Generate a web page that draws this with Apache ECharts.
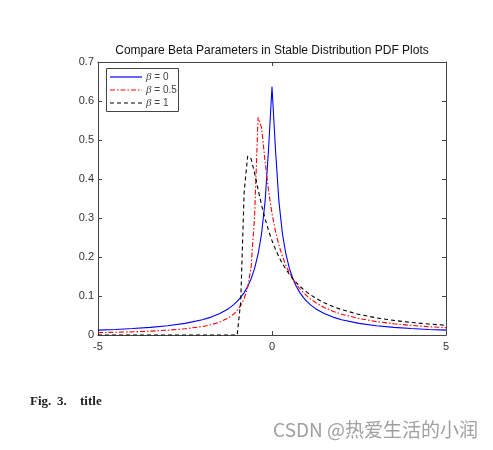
<!DOCTYPE html>
<html>
<head>
<meta charset="utf-8">
<script src="https://cdn.jsdelivr.net/npm/echarts@6/dist/echarts.min.js"></script>
<style>
html,body{margin:0;padding:0;background:#fff;}
#c{width:493px;height:450px;}
</style>
</head>
<body>
<div id="c"></div>
<script>
// x sample positions
var xs = [-5,-4.5,-4,-3.5,-3,-2.5,-2,-1.75,-1.5,-1.25,-1.1,-1,-0.9,-0.8,-0.7,-0.6,-0.5,-0.4,-0.3,-0.2,-0.1,0,
          0.1,0.2,0.3,0.4,0.5,0.6,0.7,0.8,0.9,1,1.1,1.25,1.5,1.75,2,2.5,3,3.5,4,4.5,5];
// beta = 0
var yBeta0 = [0.0124,0.0142,0.0165,0.0196,0.0238,0.0299,0.0392,0.0459,0.0549,0.0675,0.0780,0.0861,0.0963,0.1087,0.1243,0.1443,0.1708,0.2071,0.2597,0.3412,0.4750,0.6366,
              0.4750,0.3412,0.2597,0.2071,0.1708,0.1443,0.1243,0.1087,0.0963,0.0861,0.0780,0.0675,0.0549,0.0459,0.0392,0.0299,0.0238,0.0196,0.0165,0.0142,0.0124];
// beta = 0.5
var yBeta05 = [0.0061,0.0070,0.0083,0.0099,0.0123,0.0159,0.0218,0.0264,0.0332,0.0438,0.0537,0.0629,0.0754,0.0935,0.1216,0.1739,0.3056,0.5579,0.5317,0.4461,0.3706,0.3115,
               0.2658,0.2299,0.2014,0.1782,0.1592,0.1434,0.1300,0.1186,0.1088,0.1003,0.0929,0.0833,0.0707,0.0610,0.0533,0.0421,0.0344,0.0288,0.0246,0.0213,0.0187];
// beta = 1
var yBeta1 = [0,0,0,0,0,0,0,0,0,0,0,0,0.0850,0.3661,0.4586,0.4518,0.4151,0.3730,0.3335,0.2984,0.2681,0.2420,
              0.2195,0.2001,0.1832,0.1685,0.1556,0.1442,0.1341,0.1251,0.1171,0.1098,0.1033,0.0947,0.0826,0.0729,0.0650,0.0528,0.0440,0.0374,0.0323,0.0282,0.0250];
var seriesNames = ['β = 0','β = 0.5','β = 1'];
var seriesColors = ['#0000ff','#ff0000','#000000'];
var seriesDash = ['solid',[5,2,1.5,2],[4,3]];

function pairs(ys){ return xs.map(function(x,i){ return [x, ys[i]]; }); }

var chart = echarts.init(document.getElementById('c'), null, {renderer:'canvas'});
var axisCol = '#444';
var labelStyle = {color:'#333', fontSize:11, fontFamily:'Liberation Sans, Arial, sans-serif'};

// legend drawn as graphic elements
var legendEls = [{type:'rect', shape:{x:106.5, y:68.5, width:72, height:43},
  style:{fill:'#fff', stroke:'#444', lineWidth:1}, z:100}];
seriesNames.forEach(function(n,i){
  var yy = 77 + i*13;
  var st = {stroke:seriesColors[i], lineWidth:1.2, fill:null};
  if (seriesDash[i] !== 'solid') st.lineDash = seriesDash[i];
  legendEls.push({type:'polyline', shape:{points:[[110,yy],[142,yy]]}, style:st, z:101});
  legendEls.push({type:'text', x:146, y:yy, z:101, style:{
    text:n.replace('β','{i|β}'), textVerticalAlign:'middle', fill:'#444', fontSize:10,
    fontFamily:'Liberation Sans, Arial, sans-serif',
    rich:{i:{fontStyle:'italic', fontFamily:'Liberation Serif, serif', fontSize:11, fill:'#444'}}}});
});

chart.setOption({
  animation:false,
  backgroundColor:'#fff',
  grid:{left:98, right:47, top:62, bottom:115, show:false},
  xAxis:[{
    type:'value', min:-5, max:5, interval:5, position:'bottom',
    axisLine:{show:true, onZero:false, lineStyle:{color:axisCol, width:1}},
    axisTick:{show:true, inside:true, length:4, lineStyle:{color:axisCol}},
    axisLabel:Object.assign({margin:6, formatter:function(v){return String(v);}}, labelStyle),
    splitLine:{show:false}
  },{
    type:'value', min:-5, max:5, interval:5, position:'top',
    axisLine:{show:true, onZero:false, lineStyle:{color:axisCol, width:1}},
    axisTick:{show:true, inside:true, length:4, lineStyle:{color:axisCol}},
    axisLabel:{show:false}, splitLine:{show:false}
  }],
  yAxis:[{
    type:'value', min:0, max:0.7, interval:0.1, position:'left',
    axisLine:{show:true, onZero:false, lineStyle:{color:axisCol, width:1}},
    axisTick:{show:true, inside:true, length:4, lineStyle:{color:axisCol}},
    axisLabel:Object.assign({margin:4, formatter:function(v){ return v===0?'0':v.toFixed(1); }}, labelStyle),
    splitLine:{show:false}
  },{
    type:'value', min:0, max:0.7, interval:0.1, position:'right',
    axisLine:{show:true, onZero:false, lineStyle:{color:axisCol, width:1}},
    axisTick:{show:true, inside:true, length:4, lineStyle:{color:axisCol}},
    axisLabel:{show:false}, splitLine:{show:false}
  }],
  series:[
    {name:seriesNames[0], type:'line', xAxisIndex:0, yAxisIndex:0, data:pairs(yBeta0), symbol:'none', showSymbol:false,
     lineStyle:{color:seriesColors[0], width:1.1, type:seriesDash[0]}, itemStyle:{color:seriesColors[0]}},
    {name:seriesNames[1], type:'line', xAxisIndex:0, yAxisIndex:0, data:pairs(yBeta05), symbol:'none', showSymbol:false,
     lineStyle:{color:seriesColors[1], width:1.1, type:seriesDash[1]}, itemStyle:{color:seriesColors[1]}},
    {name:seriesNames[2], type:'line', xAxisIndex:0, yAxisIndex:0, data:pairs(yBeta1), symbol:'none', showSymbol:false,
     lineStyle:{color:seriesColors[2], width:1.1, type:seriesDash[2]}, itemStyle:{color:seriesColors[2]}}
  ],
  graphic:[
    {type:'text', x:272, y:51, style:{text:'Compare Beta Parameters in Stable Distribution PDF Plots',
      textAlign:'center', textVerticalAlign:'middle', fill:'#111', fontSize:12, fontFamily:'Liberation Sans, Arial, sans-serif'}},
    {type:'text', x:30, y:402, style:{text:'Fig.', textVerticalAlign:'middle', fill:'#222',
      fontSize:13, fontWeight:'bold', fontFamily:'Liberation Serif, Times New Roman, serif'}},
    {type:'text', x:57, y:402, style:{text:'3.', textVerticalAlign:'middle', fill:'#222',
      fontSize:13, fontWeight:'bold', fontFamily:'Liberation Serif, Times New Roman, serif'}},
    {type:'text', x:80, y:402, style:{text:'title', textVerticalAlign:'middle', fill:'#222',
      fontSize:13, fontWeight:'bold', fontFamily:'Liberation Serif, Times New Roman, serif'}},
    {type:'text', x:478, y:430, style:{text:'CSDN @热爱生活的小润', textAlign:'right', textVerticalAlign:'middle',
      fill:'#a0a0a0', fontSize:19, fontFamily:'Noto Sans CJK SC, sans-serif'}}
  ].concat(legendEls)
});
</script>
</body>
</html>
